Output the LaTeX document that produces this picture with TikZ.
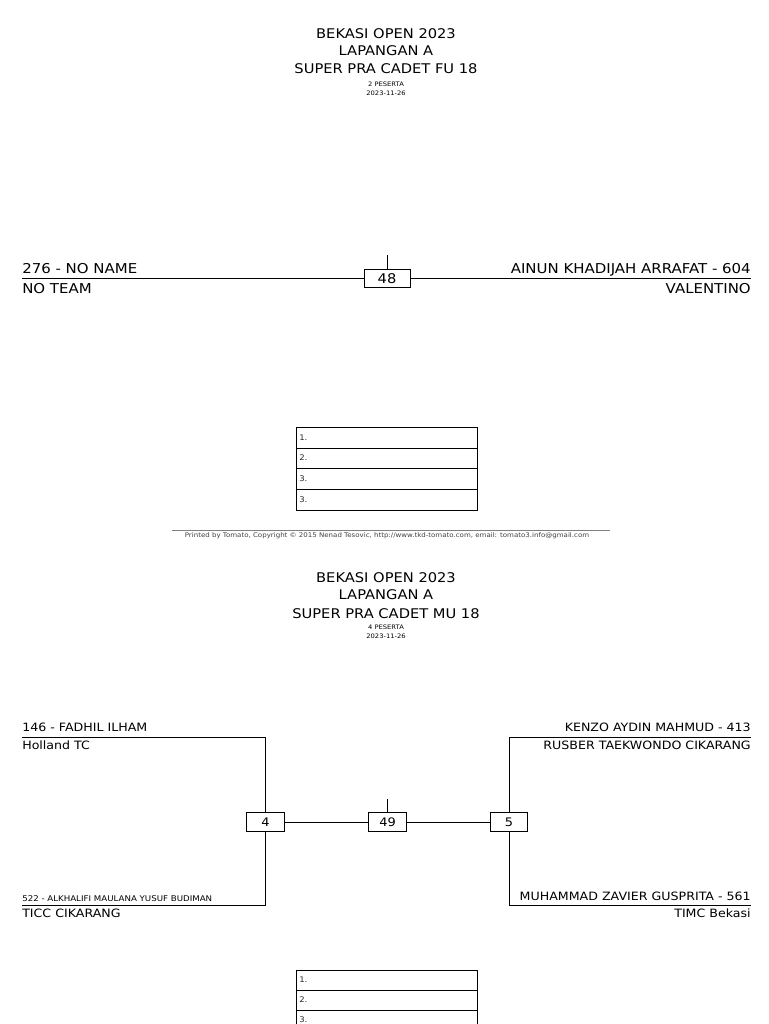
\documentclass[tikz,border=0pt]{standalone}
\usepackage{fontspec}
\setmainfont{DejaVu Sans}[FakeStretch=1.1]
\begin{document}
\begin{tikzpicture}[x=0.75pt,y=-0.75pt,
  ttl/.style={font=\fontsize{10}{12}\selectfont, anchor=base, inner sep=0pt},
  sml/.style={font=\fontsize{4.6}{5}\selectfont, anchor=base, inner sep=0pt},
  nm/.style={font=\fontsize{10.2}{11}\selectfont, inner sep=0pt},
  nmb/.style={font=\fontsize{8.6}{10}\selectfont, inner sep=0pt},
  tiny/.style={font=\fontsize{5.9}{6}\selectfont, inner sep=0pt},
  ln/.style={line width=0.6pt},
  mbox/.style={draw, line width=0.6pt, minimum width=#1, minimum height=14pt, inner sep=0pt, font=\fontsize{10}{11}\selectfont},
  rowlab/.style={font=\fontsize{5.8}{6}\selectfont, anchor=west, inner sep=0pt, text=black!85},
  foot/.style={font=\fontsize{4.8}{5}\selectfont, anchor=base, inner sep=0pt, text=black!75}
]
\useasboundingbox (0,0) rectangle (768,1024);
% ---------- Section 1 ----------
\node[ttl] (t1a) at (386,39) {BEKASI OPEN 2023};
\node[ttl] (t1b) at (386,56) {LAPANGAN A};
\node[ttl] (t1c) at (386,74) {SUPER PRA CADET FU 18};
\node[sml] (t1d) at (386,86) {2 PESERTA};
\node[sml] (t1e) at (386,95) {2023-11-26};

\coordinate (l1) at (22,278);
\coordinate (r1) at (751,278);
\node[mbox=34.5pt] (m48) at (387,278.5) {48};
\coordinate (m48t) at (387,255);
\draw[ln] (l1) -- (m48.west |- l1);
\draw[ln] (m48.east |- r1) -- (r1);
\draw[ln] (m48.north) -- (m48t);
\node[nm, anchor=base west] (p1n) at (22,273) {276 - NO NAME};
\node[nm, anchor=base west] (p1t) at (22,293) {NO TEAM};
\node[nm, anchor=base east] (p2n) at (751,273) {AINUN KHADIJAH ARRAFAT - 604};
\node[nm, anchor=base east] (p2t) at (751,293) {VALENTINO};

% results table 1
\draw[ln] (296,427) rectangle (477,510);
\draw[ln] (296,448) -- (477,448);
\draw[ln] (296,468.5) -- (477,468.5);
\draw[ln] (296,489) -- (477,489);
\node[rowlab] (r1a) at (299,437.5) {1.};
\node[rowlab] (r1b) at (299,458) {2.};
\node[rowlab] (r1c) at (299,478.5) {3.};
\node[rowlab] (r1d) at (299,499.5) {3.};

% footer
\draw[line width=0.4pt, black!50] (172,530) -- (610,530);
\node[foot] (ft) at (387,537) {Printed by Tomato, Copyright © 2015 Nenad Tesovic, http://www.tkd-tomato.com, email: tomato3.info@gmail.com};

% ---------- Section 2 ----------
\node[ttl] (t2a) at (386,582) {BEKASI OPEN 2023};
\node[ttl] (t2b) at (386,599) {LAPANGAN A};
\node[ttl] (t2c) at (386,618) {SUPER PRA CADET MU 18};
\node[sml] (t2d) at (386,629.5) {4 PESERTA};
\node[sml] (t2e) at (386,638) {2023-11-26};

\node[mbox=28pt, font=\fontsize{8.8}{10}\selectfont] (m4) at (265.5,822) {4};
\node[mbox=28pt, font=\fontsize{8.8}{10}\selectfont] (m49) at (387.5,822) {49};
\node[mbox=28pt, font=\fontsize{8.8}{10}\selectfont] (m5) at (509,822) {5};
\coordinate (a1) at (22,737);
\coordinate (a2) at (265.5,737);
\coordinate (b1) at (22,905);
\coordinate (b2) at (265.5,905);
\coordinate (c1) at (751,737);
\coordinate (c2) at (509,737);
\coordinate (d1) at (751,905);
\coordinate (d2) at (509,905);
\coordinate (m49t) at (387.5,799);
\draw[ln] (a1) -- (a2) -- (m4.north);
\draw[ln] (b1) -- (b2) -- (m4.south);
\draw[ln] (c1) -- (c2) -- (m5.north);
\draw[ln] (d1) -- (d2) -- (m5.south);
\draw[ln] (m4.east) -- (m49.west);
\draw[ln] (m49.east) -- (m5.west);
\draw[ln] (m49.north) -- (m49t);

\node[nmb, anchor=base west] (q1n) at (22,731.5) {146 - FADHIL ILHAM};
\node[nmb, anchor=base west] (q1t) at (22,749) {Holland TC};
\node[tiny, anchor=base west] (q2n) at (22,901) {522 - ALKHALIFI MAULANA YUSUF BUDIMAN};
\node[nmb, anchor=base west] (q2t) at (22,917.5) {TICC CIKARANG};
\node[nmb, anchor=base east] (q3n) at (751,731.5) {KENZO AYDIN MAHMUD - 413};
\node[nmb, anchor=base east] (q3t) at (751,749) {RUSBER TAEKWONDO CIKARANG};
\node[nmb, anchor=base east] (q4n) at (751,900) {MUHAMMAD ZAVIER GUSPRITA - 561};
\node[nmb, anchor=base east] (q4t) at (751,917.5) {TIMC Bekasi};

% results table 2
\draw[ln] (296,1050) -- (296,970) -- (477,970) -- (477,1050);
\draw[ln] (296,990) -- (477,990);
\draw[ln] (296,1010) -- (477,1010);
\node[rowlab] (s1a) at (299,980) {1.};
\node[rowlab] (s1b) at (299,1000) {2.};
\node[rowlab] (s1c) at (299,1020) {3.};
\end{tikzpicture}
\end{document}
